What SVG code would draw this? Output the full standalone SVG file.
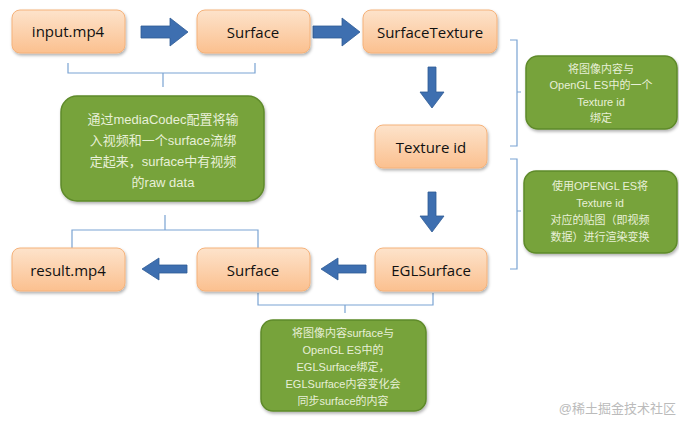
<svg xmlns="http://www.w3.org/2000/svg" width="679" height="421" viewBox="0 0 679 421">
<defs>
<linearGradient id="og" x1="0" y1="0" x2="0" y2="1"><stop offset="0" stop-color="#fde3cb"/><stop offset="1" stop-color="#fbc08f"/></linearGradient>
<filter id="sh" x="-10%" y="-10%" width="130%" height="140%"><feDropShadow dx="1" dy="2" stdDeviation="1.5" flood-color="#000" flood-opacity="0.3"/></filter>
</defs>
<style>
.o{fill:url(#og);stroke:#f5b27a;stroke-width:1;filter:url(#sh)}
.g{fill:#77a33a;stroke:#5e8a2a;stroke-width:1.5;filter:url(#sh)}
.t{font-family:"Open Sans","Liberation Sans",sans-serif;font-size:15px;fill:#111;text-anchor:middle}
.w{font-family:"Liberation Sans","Noto Sans CJK SC",sans-serif;font-size:11px;fill:#e8f0d8;text-anchor:middle}
.wb{font-family:"Liberation Sans","Noto Sans CJK SC",sans-serif;font-size:13px;fill:#e8f0d8;text-anchor:middle}
.b{fill:none;stroke:#7aa3d3;stroke-width:1.2}
.a{fill:#3e6fb0;stroke:#2f5a94;stroke-width:0.8}
</style>
<rect width="679" height="421" fill="#fff"/>
<g id="connectors">
<path class="b" d="M68 63V73H255V63M163 73V87"/>
<path class="b" d="M165 215V230M72 248V230H258V248"/>
<path class="b" d="M258 293V305H433V293M345 305V313"/>
<path class="b" d="M510 40H517V146H510M517 92H521"/>
<path class="b" d="M510 159H517V269H510M517 211H521"/>
<path class="a" d="M141 36H170V28L188 42L170 56V48H141Z" transform="translate(0,-10)"/>
<path class="a" d="M313 26H342V18L360 32L342 46V38H313Z"/>
<path class="a" d="M428 67V92H420L432 108L444 92H436V67Z"/>
<path class="a" d="M428 192V216H420L432 232L444 216H436V192Z"/>
<path class="a" d="M366 265H338V258L321 269L338 280V273H366Z"/>
<path class="a" d="M187 265H159V258L142 269L159 280V273H187Z"/>
</g>
<g id="input"><rect class="o" x="12" y="10" width="113" height="43" rx="8"/><text class="t" x="68" y="37">input.mp4</text></g>
<g id="surface1"><rect class="o" x="197" y="10" width="113" height="43" rx="8"/><text class="t" x="253" y="38">Surface</text></g>
<g id="surfacetexture"><rect class="o" x="363" y="10" width="134" height="43" rx="8"/><text class="t" x="430" y="38">SurfaceTexture</text></g>
<g id="textureid"><rect class="o" x="375" y="125" width="112" height="43" rx="8"/><text class="t" x="431" y="153">Texture id</text></g>
<g id="eglsurface"><rect class="o" x="375" y="248" width="112" height="43" rx="8"/><text class="t" x="431" y="276">EGLSurface</text></g>
<g id="surface2"><rect class="o" x="197" y="248" width="113" height="43" rx="8"/><text class="t" x="253" y="276">Surface</text></g>
<g id="result"><rect class="o" x="12" y="248" width="113" height="43" rx="8"/><text class="t" x="68" y="276">result.mp4</text></g>
<g id="note1"><rect class="g" x="61" y="96" width="203" height="105" rx="16"/>
<text class="wb" x="163" y="124">通过mediaCodec配置将输</text><text class="wb" x="163" y="145">入视频和一个surface流绑</text><text class="wb" x="163" y="166">定起来，surface中有视频</text><text class="wb" x="163" y="187">的raw data</text></g>
<g id="note2"><rect class="g" x="526" y="56" width="151" height="73" rx="12"/>
<text class="w" x="601" y="73">将图像内容与</text><text class="w" x="601" y="89">OpenGL ES中的一个</text><text class="w" x="601" y="106">Texture id</text><text class="w" x="601" y="122">绑定</text></g>
<g id="note3"><rect class="g" x="524" y="171" width="153" height="82" rx="12"/>
<text class="w" x="600" y="190">使用OPENGL ES将</text><text class="w" x="600" y="207">Texture id</text><text class="w" x="600" y="224">对应的贴图（即视频</text><text class="w" x="600" y="241">数据）进行渲染变换</text></g>
<g id="note4"><rect class="g" x="261" y="320" width="165" height="91" rx="12"/>
<text class="w" x="343" y="337">将图像内容surface与</text><text class="w" x="343" y="354">OpenGL ES中的</text><text class="w" x="343" y="371">EGLSurface绑定，</text><text class="w" x="343" y="388">EGLSurface内容变化会</text><text class="w" x="343" y="405">同步surface的内容</text></g>
<text x="676" y="413" font-family="Liberation Sans,Noto Sans CJK SC,sans-serif" font-size="13" fill="#bbb" text-anchor="end">@稀土掘金技术社区</text>
</svg>
